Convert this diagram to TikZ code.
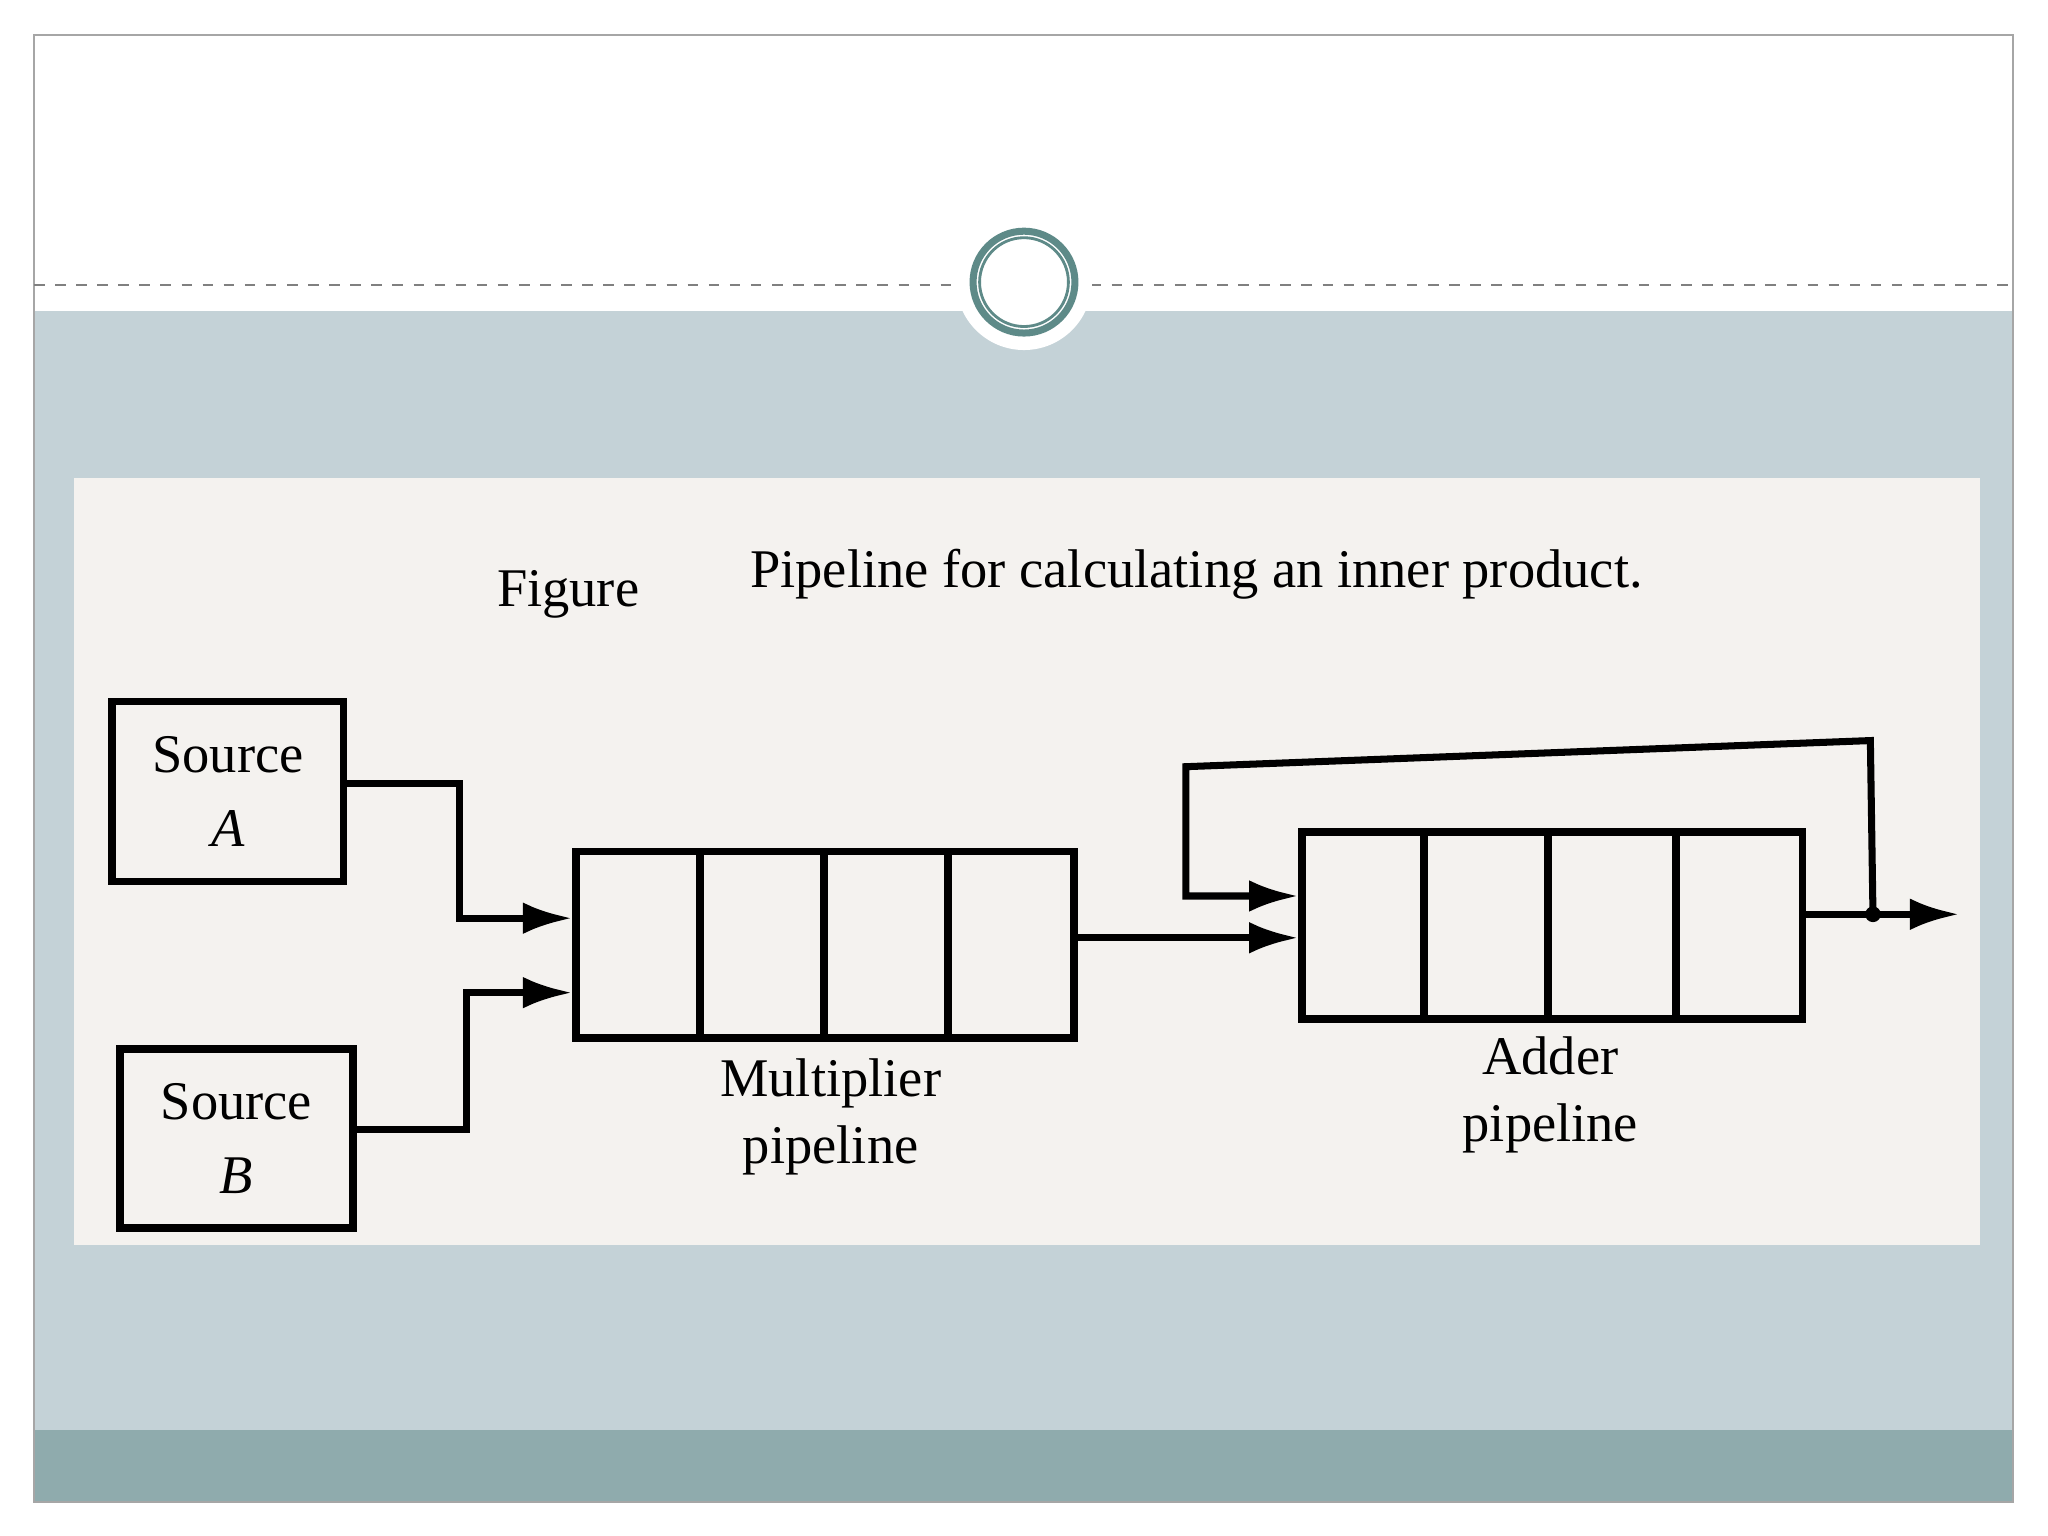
\documentclass[tikz,border=0pt]{standalone}
\usepackage{fontspec}
\setmainfont{Liberation Serif}
\usetikzlibrary{arrows.meta}
\definecolor{bgblue}{HTML}{C4D2D7}
\definecolor{band}{HTML}{8FABAD}
\definecolor{ring}{HTML}{5E8A88}
\definecolor{paper}{HTML}{F4F2EF}
\tikzset{
  blk/.style={draw=black, line width=2.2pt},
  wire/.style={draw=black, line width=2pt},
  arr/.style={wire, -{Latex[length=14pt,width=9pt]}},
  lbl/.style={font=\fontsize{15.5}{17}\selectfont, align=center, inner sep=0pt}
}
\begin{document}
\begin{tikzpicture}[x=0.01306cm,y=-0.01306cm]
\useasboundingbox (0,0) rectangle (1568,1176);
\fill[white] (0,0) rectangle (1568,1176);
\fill[bgblue] (26,238) rectangle (1541,1095);
\fill[band] (26,1095) rectangle (1541,1150);
\draw[gray!70, line width=0.6pt] (26,27) rectangle (1541,1150);
\draw[gray, dashed, line width=0.6pt] (26,218) -- (735,218);
\draw[gray, dashed, line width=0.6pt] (835,218) -- (1541,218);
\fill[white] (784,216) circle (52);
\draw[ring, line width=2pt] (784,216) circle (39);
\draw[ring, line width=0.8pt] (784,216) circle (34);
\fill[paper] (57,366) rectangle (1516,953);
\node[lbl] (fig) at (435,455) {Figure};
\node[lbl] (title) at (916,440) {Pipeline for calculating an inner product.};
% source boxes
\node[blk, minimum width=177*0.01306cm, minimum height=138*0.01306cm, lbl] (sa) at (174.5,606) {Source\\[4pt]\textit{A}};
\node[blk, minimum width=178*0.01306cm, minimum height=137*0.01306cm, lbl] (sb) at (181,871.5) {Source\\[4pt]\textit{B}};
% multiplier
\node[blk, minimum width=381*0.01306cm, minimum height=143*0.01306cm] (mul) at (631.5,723.5) {};
\foreach \x in {536,631,726} \draw[blk] (\x,652) -- (\x,795);
\node[blk, minimum width=383*0.01306cm, minimum height=143*0.01306cm] (add) at (1188.5,708.5) {};
\foreach \x in {1090,1185,1283} \draw[blk] (\x,637) -- (\x,780);
\node[lbl] (ml) at (636,855) {Multiplier\\[2pt]pipeline};
\node[lbl] (al) at (1187,838) {Adder\\[2pt]pipeline};
% connectors
\coordinate (mA) at (mul.west |- 0,703);
\coordinate (mB) at (mul.west |- 0,760);
\draw[arr] (sa.east |- 0,600) -- (352,600) -- (352,703) -- (mA);
\draw[arr] (sb.east |- 0,865) -- (357,865) -- (357,760) -- (mB);
\coordinate (a1) at (add.west |- 0,718);
\coordinate (a2) at (add.west |- 0,686);
\draw[arr] (mul.east |- 0,718) -- (a1);
\coordinate (out) at (1500,700);
\coordinate (dot) at (1434,700);
\draw[arr] (add.east |- 0,700) -- (out);
\fill (dot) circle (6);
\draw[arr] (dot) -- (1432,567) -- (908,587) -- (908,686) -- (a2);
\end{tikzpicture}
\end{document}
